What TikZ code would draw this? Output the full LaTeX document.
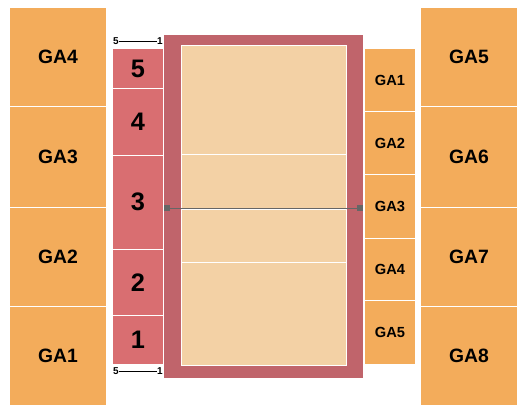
\documentclass[tikz,border=0pt]{standalone}
\usepackage{fontspec}
\setmainfont{Liberation Sans}
\definecolor{gaorange}{HTML}{F3AC5B}
\definecolor{secred}{HTML}{D96E71}
\definecolor{courtred}{HTML}{C0646B}
\definecolor{courtin}{HTML}{F3D1A5}
\definecolor{netgray}{HTML}{666666}
\newcommand{\pxbox}[7]{%
  \pgfmathsetmacro{\pxcx}{(#3+#5)/2}\pgfmathsetmacro{\pxcy}{(#4+#6)/2}%
  \pgfmathsetmacro{\pxw}{(#5-#3)*0.75}\pgfmathsetmacro{\pxh}{(#6-#4)*0.75}%
  \node[#1,minimum width=\pxw pt,minimum height=\pxh pt] (#2) at (\pxcx,\pxcy) {#7};}
\tikzset{
  x=0.75pt,y=-0.75pt,
  base/.style={rectangle,inner sep=0pt,outer sep=0pt,text=black,font=\bfseries},
  gabig/.style={base,fill=gaorange,font=\bfseries\fontsize{14.5pt}{16pt}\selectfont},
  gasmall/.style={base,fill=gaorange,font=\bfseries\fontsize{11pt}{13pt}\selectfont},
  sect/.style={base,fill=secred,font=\bfseries\fontsize{19pt}{21pt}\selectfont},
  court/.style={base,fill=courtred},
  inner court/.style={base,fill=courtin,draw=white,line width=0.75pt},
  courtline/.style={draw=white,line width=0.6pt},
  post/.style={rectangle,fill=netgray,inner sep=0pt,minimum size=4pt},
  seat/.style={inner sep=0pt,font=\bfseries\fontsize{7.5pt}{9pt}\selectfont,text=black},
  seatline/.style={draw=black,line width=0.6pt},
}
\begin{document}
\begin{tikzpicture}
\useasboundingbox[fill=white] (0,0) rectangle (525,410);
\pxbox{gabig}{lfour}{10}{8}{106}{106}{GA4}
\pxbox{gabig}{lthree}{10}{107}{106}{206.5}{GA3}
\pxbox{gabig}{ltwo}{10}{207.5}{106}{306}{GA2}
\pxbox{gabig}{lone}{10}{307}{106}{404.5}{GA1}
\pxbox{gabig}{rfive}{421}{8}{517}{106}{GA5}
\pxbox{gabig}{rsix}{421}{107}{517}{206.5}{GA6}
\pxbox{gabig}{rseven}{421}{207.5}{517}{306}{GA7}
\pxbox{gabig}{reight}{421}{307}{517}{405}{GA8}
\pxbox{sect}{sfive}{113}{49}{163}{88.5}{5}
\pxbox{sect}{sfour}{113}{89.5}{163}{154.5}{4}
\pxbox{sect}{sthree}{113}{155.5}{163}{249}{3}
\pxbox{sect}{stwo}{113}{250}{163}{315}{2}
\pxbox{sect}{sone}{113}{316}{163}{363.5}{1}
\pxbox{gasmall}{mone}{365}{49}{415}{111.5}{GA1}
\pxbox{gasmall}{mtwo}{365}{112.5}{415}{174}{GA2}
\pxbox{gasmall}{mthree}{365}{175}{415}{238}{GA3}
\pxbox{gasmall}{mfour}{365}{239}{415}{300}{GA4}
\pxbox{gasmall}{mfive}{365}{301}{415}{363.5}{GA5}
\pxbox{court}{outer}{164}{35}{363}{378}{}
\pxbox{inner court}{field}{181}{45.5}{346}{365}{}
\coordinate (lineAw) at (181,154);
\coordinate (lineAe) at (346,154);
\coordinate (lineBw) at (181,262);
\coordinate (lineBe) at (346,262);
\coordinate (netwhitew) at (181,209);
\coordinate (netwhitee) at (346,209);
\draw[courtline] (lineAw) -- (lineAe);
\draw[courtline] (lineBw) -- (lineBe);
\draw[draw=white,line width=0.75pt] (netwhitew) -- (netwhitee);
\node[post] (postw) at (167,208) {};
\node[post] (poste) at (360,208) {};
\draw[draw=netgray,line width=0.7pt] (postw) -- (poste);
\node[seat] (tlfive) at (116,41.5) {5};
\node[seat] (tlone) at (160,41.5) {1};
\draw[seatline] (tlfive) -- (tlone);
\node[seat] (blfive) at (116,371.5) {5};
\node[seat] (blone) at (160,371.5) {1};
\draw[seatline] (blfive) -- (blone);
\end{tikzpicture}
\end{document}
